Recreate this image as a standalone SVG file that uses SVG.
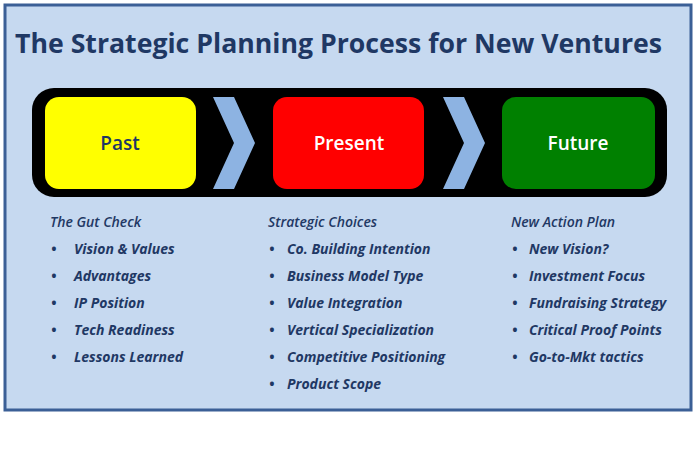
<svg xmlns="http://www.w3.org/2000/svg" width="696" height="449" viewBox="0 0 696 449">
<style>
.t{font-family:"Open Sans","Liberation Sans",sans-serif;fill:#1f3864}
.h{font-size:14px;font-style:italic;font-weight:600}
.b{font-size:14px;font-weight:bold;font-style:italic}
.lbl{font-family:"Open Sans","Liberation Sans",sans-serif;font-size:19px;font-weight:600;text-anchor:middle}
.chev{fill:#8db3e2}
</style>
<rect width="696" height="449" fill="#fff"/>
<rect x="5" y="5" width="686" height="405" fill="#c6d9f0" stroke="#3b5f96" stroke-width="3"/>
<text class="t" x="15" y="53" font-size="26" font-weight="bold" textLength="647" lengthAdjust="spacingAndGlyphs">The Strategic Planning Process for New Ventures</text>
<rect x="32" y="88" width="635" height="109" rx="22" fill="#000"/>
<g id="past"><rect x="45" y="97" width="151" height="92" rx="14" fill="#ffff00"/><text class="lbl" x="120" y="150" fill="#1f3864">Past</text></g>
<g id="present"><rect x="273" y="97" width="151" height="92" rx="14" fill="#ff0000"/><text class="lbl" x="349" y="150" fill="#fff">Present</text></g>
<g id="future"><rect x="502" y="97" width="153" height="92" rx="14" fill="#008000"/><text class="lbl" x="578" y="150" fill="#fff">Future</text></g>
<g id="connectors">
<polygon class="chev" points="213,97 234,97 255,143 234,189 213,189 234,143"/>
<polygon class="chev" points="443,97 464,97 485,143 464,189 443,189 464,143"/>
</g>
<g id="col1" class="t">
<text class="h" x="50" y="227">The Gut Check</text>
<g class="b"><text x="51" y="254">•</text><text x="74" y="254">Vision &amp; Values</text>
<text x="51" y="281">•</text><text x="74" y="281">Advantages</text>
<text x="51" y="308">•</text><text x="74" y="308">IP Position</text>
<text x="51" y="335">•</text><text x="74" y="335">Tech Readiness</text>
<text x="51" y="362">•</text><text x="74" y="362">Lessons Learned</text></g>
</g>
<g id="col2" class="t">
<text class="h" x="268" y="227">Strategic Choices</text>
<g class="b"><text x="269" y="254">•</text><text x="287" y="254">Co. Building Intention</text>
<text x="269" y="281">•</text><text x="287" y="281">Business Model Type</text>
<text x="269" y="308">•</text><text x="287" y="308">Value Integration</text>
<text x="269" y="335">•</text><text x="287" y="335">Vertical Specialization</text>
<text x="269" y="362">•</text><text x="287" y="362">Competitive Positioning</text>
<text x="269" y="389">•</text><text x="287" y="389">Product Scope</text></g>
</g>
<g id="col3" class="t">
<text class="h" x="511" y="227">New Action Plan</text>
<g class="b"><text x="512" y="254">•</text><text x="529" y="254">New Vision?</text>
<text x="512" y="281">•</text><text x="529" y="281">Investment Focus</text>
<text x="512" y="308">•</text><text x="529" y="308">Fundraising Strategy</text>
<text x="512" y="335">•</text><text x="529" y="335">Critical Proof Points</text>
<text x="512" y="362">•</text><text x="529" y="362">Go-to-Mkt tactics</text></g>
</g>
</svg>
